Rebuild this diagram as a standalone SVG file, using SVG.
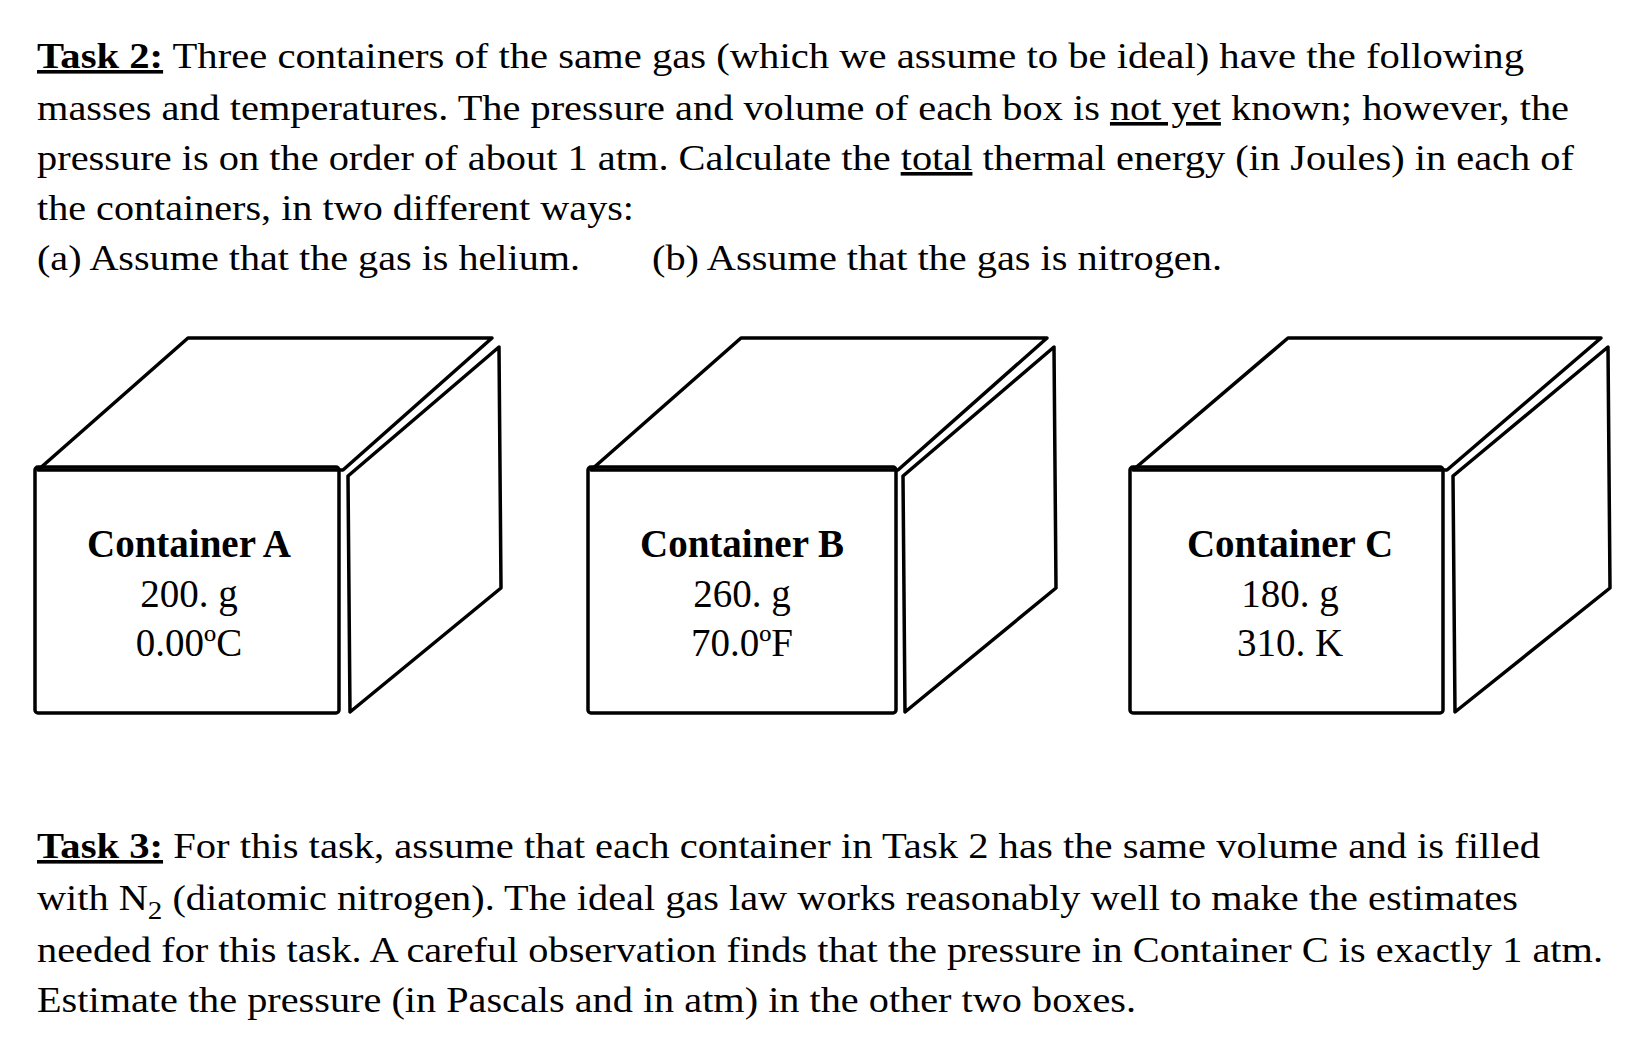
<svg xmlns="http://www.w3.org/2000/svg" width="1644" height="1054" viewBox="0 0 1644 1054">
<style>
.t{font-family:"Liberation Serif","Times New Roman",serif;font-size:36px;fill:#000}
.b{font-weight:bold}
.u{text-decoration:underline}
.c{font-family:"Liberation Serif","Times New Roman",serif;font-size:39px;fill:#000;text-anchor:middle}
.s{fill:none;stroke:#000;stroke-width:3.5;stroke-linejoin:round;stroke-linecap:round}
</style>
<rect width="1644" height="1054" fill="#fff"/>
<g id="task2">
<text class="t" x="37" y="68" textLength="1487" lengthAdjust="spacingAndGlyphs"><tspan class="b u">Task 2:</tspan>  Three containers of the same gas (which we assume to be ideal) have the following</text>
<text class="t" x="37" y="120" textLength="1532" lengthAdjust="spacingAndGlyphs">masses and temperatures. The pressure and volume of each box is <tspan class="u">not yet</tspan> known; however, the</text>
<text class="t" x="37" y="170" textLength="1537" lengthAdjust="spacingAndGlyphs">pressure is on the order of about 1 atm. Calculate the <tspan class="u">total</tspan> thermal energy (in Joules) in each of</text>
<text class="t" x="37" y="220" textLength="597" lengthAdjust="spacingAndGlyphs">the containers, in two different ways:</text>
<text class="t" x="37" y="270" textLength="543" lengthAdjust="spacingAndGlyphs">(a) Assume that the gas is helium.</text>
<text class="t" x="652" y="270" textLength="570" lengthAdjust="spacingAndGlyphs">(b) Assume that the gas is nitrogen.</text>
</g>
<g id="containerA">
<path class="s" d="M38 470 L188 338 L492 338 L343 470 Z"/>
<path class="s" d="M348 476 L499 347 L501 588 L350 712 Z"/>
<rect class="s" x="35" y="467" width="304" height="246" rx="3"/>
<text class="c b" x="189" y="557">Container A</text>
<text class="c" x="189" y="607">200. g</text>
<text class="c" x="189" y="656">0.00ºC</text>
</g>
<g id="containerB">
<path class="s" d="M591 470 L741 338 L1047 338 L898 470 Z"/>
<path class="s" d="M903 476 L1054 347 L1056 588 L905 712 Z"/>
<rect class="s" x="588" y="467" width="308" height="246" rx="3"/>
<text class="c b" x="742" y="557">Container B</text>
<text class="c" x="742" y="607">260. g</text>
<text class="c" x="742" y="656">70.0ºF</text>
</g>
<g id="containerC">
<path class="s" d="M1133 470 L1288 338 L1601 338 L1447 470 Z"/>
<path class="s" d="M1453 476 L1608 347 L1610 588 L1455 712 Z"/>
<rect class="s" x="1130" y="467" width="313" height="246" rx="3"/>
<text class="c b" x="1290" y="557">Container C</text>
<text class="c" x="1290" y="607">180. g</text>
<text class="c" x="1290" y="656">310. K</text>
</g>
<g id="connectors"/>
<g id="task3">
<text class="t" x="37" y="858" textLength="1503" lengthAdjust="spacingAndGlyphs"><tspan class="b u">Task 3:</tspan>  For this task, assume that each container in Task 2 has the same volume and is filled</text>
<text class="t" x="37" y="910" textLength="1481" lengthAdjust="spacingAndGlyphs">with N<tspan font-size="26" dy="9">2</tspan><tspan dy="-9"> (diatomic nitrogen). The ideal gas law works reasonably well to make the estimates</tspan></text>
<text class="t" x="37" y="962" textLength="1566" lengthAdjust="spacingAndGlyphs">needed for this task. A careful observation finds that the pressure in Container C is exactly 1 atm.</text>
<text class="t" x="37" y="1012" textLength="1099" lengthAdjust="spacingAndGlyphs">Estimate the pressure (in Pascals and in atm) in the other two boxes.</text>
</g>
</svg>
